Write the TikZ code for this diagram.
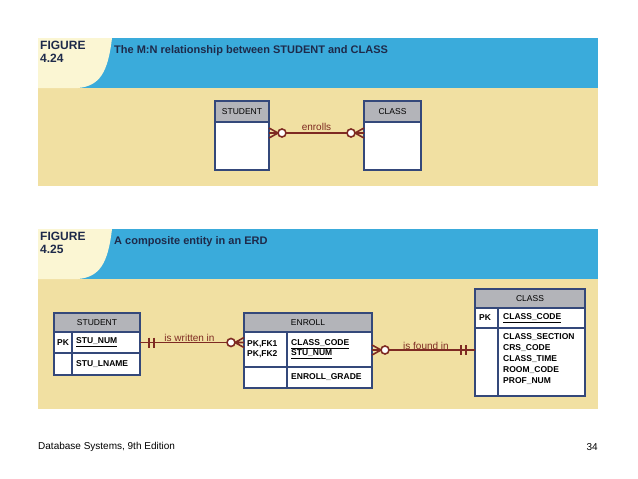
\documentclass[tikz,border=0pt]{standalone}
\usepackage{fontspec}
\setmainfont{Liberation Sans}
\usetikzlibrary{calc}
\definecolor{barblue}{HTML}{3AABDB}
\definecolor{tabcream}{HTML}{FBF6D3}
\definecolor{bodytan}{HTML}{F1E0A2}
\definecolor{headgrey}{HTML}{B3B4B9}
\definecolor{boxnavy}{HTML}{34487A}
\definecolor{relred}{HTML}{7E2A22}
\definecolor{titlenavy}{HTML}{1E2A4A}
\tikzset{
  cell/.style={draw=boxnavy, line width=1.2pt, inner sep=0pt, outer sep=0pt, anchor=north west},
  head/.style={cell, fill=headgrey, font=\fontsize{8.5}{9}\selectfont},
  body/.style={cell, fill=white, font=\bfseries\fontsize{8.5}{9.5}\selectfont},
  cols/.style={font=\bfseries\fontsize{8.5}{10}\selectfont, anchor=west, align=left, inner sep=0pt},
  rel/.style={draw=relred, line width=1.6pt},
  rellabel/.style={text=relred, font=\fontsize{10}{11}\selectfont, inner sep=1pt},
  figtag/.style={anchor=north west, text=titlenavy, font=\bfseries\fontsize{12}{13}\selectfont, align=left, inner sep=0pt},
  figtitle/.style={anchor=north west, text=titlenavy, font=\bfseries\fontsize{11}{12}\selectfont, inner sep=0pt}
}
% crow's foot with ring, foot at #1, line coming from side #2 (+1 or -1)
\newcommand{\manyzero}[2]{
  \draw[rel] ($(#1)+(#2*9,0)$) -- ($(#1)+(0,-5)$)
             ($(#1)+(#2*9,0)$) -- (#1)
             ($(#1)+(#2*9,0)$) -- ($(#1)+(0,5)$);
  \draw[rel, fill=white] ($(#1)+(#2*13,0)$) circle (4);
}
% two bars at #1 offset along side #2
\newcommand{\onlyone}[2]{
  \draw[rel] ($(#1)+(#2*9,-5)$) -- ($(#1)+(#2*9,5)$)
             ($(#1)+(#2*14,-5)$) -- ($(#1)+(#2*14,5)$);
}
\begin{document}
\begin{tikzpicture}[x=1pt, y=-1pt]
\useasboundingbox[fill=white] (0,0) rectangle (638,479);

% figure 4.24
\fill[bodytan] (38,88) rectangle (598,186);
\fill[barblue] (38,38) rectangle (598,88);
\fill[tabcream] (38,38) -- (112,38) .. controls (108,72) and (100,86) .. (78,88) -- (38,88) -- cycle;
\node[figtag] (tagA) at (40,41) {FIGURE\\4.24};
\node[figtitle] (titleA) at (114,45) {The M:N relationship between STUDENT and CLASS};

\node[head, minimum width=54, minimum height=21] (stuA) at (215,101) {STUDENT};
\node[body, minimum width=54, minimum height=48] (stuAbody) at (stuA.south west) {};
\node[head, minimum width=57, minimum height=21] (clsA) at (364,101) {CLASS};
\node[body, minimum width=57, minimum height=48] (clsAbody) at (clsA.south west) {};

\coordinate (enrA) at ($(stuAbody.west |- 0,133)+(54,0)$);
\coordinate (enrB) at (clsAbody.west |- enrA);
\draw[rel] ($(enrA)+(17,0)$) -- node[rellabel, above=1pt] (enrolls) {enrolls} ($(enrB)+(-17,0)$);
\manyzero{enrA}{1}
\manyzero{enrB}{-1}

% figure 4.25
\fill[bodytan] (38,279) rectangle (598,409);
\fill[barblue] (38,229) rectangle (598,279);
\fill[tabcream] (38,229) -- (112,229) .. controls (108,263) and (100,277) .. (78,279) -- (38,279) -- cycle;
\node[figtag] (tagB) at (40,232) {FIGURE\\4.25};
\node[figtitle] (titleB) at (114,236) {A composite entity in an ERD};

% STUDENT
\node[head, minimum width=86, minimum height=19] (stu) at (54,313) {STUDENT};
\node[body, minimum width=18, minimum height=21] (stuPK) at (stu.south west) {};
\node[body, minimum width=68, minimum height=21] (stuKey) at (stuPK.north east) {};
\node[body, minimum width=18, minimum height=22] (stuPK2) at (stuPK.south west) {};
\node[body, minimum width=68, minimum height=22] (stuAttr) at (stuPK2.north east) {};
\node[cols] (stuPKtxt) at ($(stuPK.west)+(3,0)$) {PK};
\node[cols] (stuNum) at ($(stuKey.west)+(4,0)$) {\underline{STU\_NUM}};
\node[cols] (stuName) at ($(stuAttr.west)+(4,0)$) {STU\_LNAME};

% ENROLL
\node[head, minimum width=128, minimum height=19] (enr) at (244,313) {ENROLL};
\node[body, minimum width=128, minimum height=35] (enrKey) at (enr.south west) {};
\node[body, minimum width=128, minimum height=21] (enrAttr) at (enrKey.south west) {};
\draw[draw=boxnavy, line width=1.2pt] ($(enr.south west)+(43,0)$) -- ($(enrAttr.south west)+(43,0)$);
\node[cols] (enrPK) at ($(enrKey.west)+(3,0)$) {PK,FK1\\PK,FK2};
\node[cols] (enrCols) at ($(enrKey.west)+(47,0)$) {\underline{CLASS\_CODE}\\\underline{STU\_NUM}};
\node[cols] (enrGrade) at ($(enrAttr.west)+(47,0)$) {ENROLL\_GRADE};

% CLASS
\node[head, minimum width=110, minimum height=19] (cls) at (475,289) {CLASS};
\node[body, minimum width=110, minimum height=20] (clsKey) at (cls.south west) {};
\node[body, minimum width=110, minimum height=68] (clsAttr) at (clsKey.south west) {};
\draw[draw=boxnavy, line width=1.2pt] ($(cls.south west)+(23,0)$) -- ($(clsAttr.south west)+(23,0)$);
\node[cols] (clsPK) at ($(clsKey.west)+(4,0)$) {PK};
\node[cols] (clsCode) at ($(clsKey.west)+(28,0)$) {\underline{CLASS\_CODE}};
\node[cols, anchor=north west, font=\bfseries\fontsize{8.5}{11}\selectfont] (clsCols) at ($(clsAttr.north west)+(28,5)$) {CLASS\_SECTION\\CRS\_CODE\\CLASS\_TIME\\ROOM\_CODE\\PROF\_NUM};

% relationships
\coordinate (wrA) at (stuKey.east);
\coordinate (wrB) at (enrKey.west |- wrA);
\draw[rel] (wrA) -- ($(wrB)+(-17,0)$) node[rellabel, midway, above=-1pt, xshift=6pt] (written) {is written in};
\onlyone{wrA}{1}
\manyzero{wrB}{-1}

\coordinate (fdA) at (enrKey.east |- 0,350);
\coordinate (fdB) at (clsAttr.west |- fdA);
\draw[rel] ($(fdA)+(17,0)$) -- (fdB) node[rellabel, midway, above=-1pt, xshift=-6pt] (found) {is found in};
\manyzero{fdA}{1}
\onlyone{fdB}{-1}

% footer
\node[anchor=west, font=\fontsize{10}{12}\selectfont, inner sep=0pt] (book) at (38,447) {Database Systems, 9th Edition};
\node[anchor=east, font=\rmfamily\fontsize{10}{12}\selectfont, inner sep=0pt] (page) at (598,447) {34};
\end{tikzpicture}
\end{document}
